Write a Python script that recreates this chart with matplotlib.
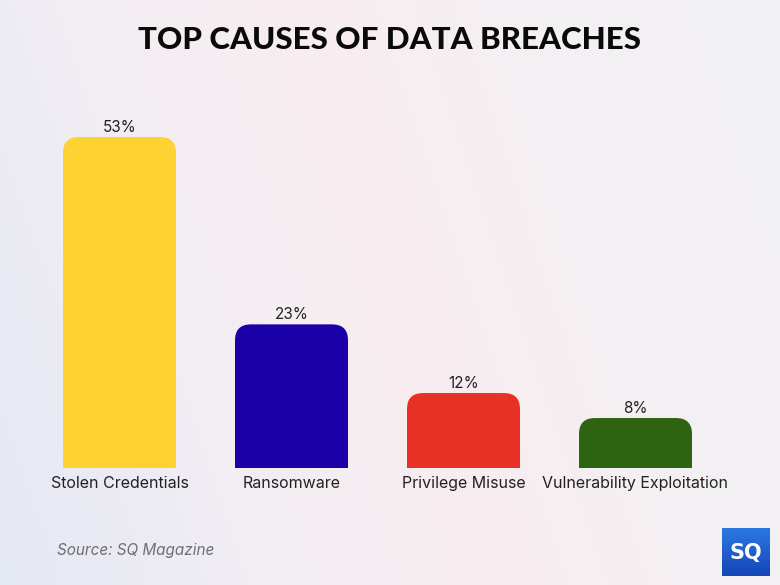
import numpy as np
import matplotlib.pyplot as plt
from matplotlib.patches import FancyBboxPatch, Rectangle
from matplotlib.colors import LinearSegmentedColormap

categories = ["Stolen Credentials", "Ransomware", "Privilege Misuse", "Vulnerability Exploitation"]
values = [53, 23, 12, 8]
colors = ["#FDD231", "#1A00A6", "#E83125", "#2E6312"]

W, H = 780, 585
fig = plt.figure(figsize=(W / 100, H / 100), dpi=100)

# background gradient
bg = fig.add_axes([0, 0, 1, 1], zorder=-10)
bg_cmap = LinearSegmentedColormap.from_list("bg", ["#E4E8F4", "#F1EDF3", "#F8EDF0", "#F4F0F3", "#F1F1F4"])
gx = np.linspace(0, 1, 200)
gy = np.linspace(0, 1, 150)
grad = 0.8 * gx[None, :] + 0.2 * gy[:, None]
bg.imshow(grad, cmap=bg_cmap, aspect="auto", extent=[0, 1, 0, 1], origin="lower")
bg.axis("off")

# bar axes: centres 172 px apart, baseline at y=468 px, 6.245 px per percent
step = 172.0
ppu = 6.245
ymax = 60
x0 = 119.5 - step / 2
ax = fig.add_axes([x0 / W, (H - 468) / H, 4 * step / W, ymax * ppu / H])
ax.set_xlim(-0.5, 3.5)
ax.set_ylim(0, ymax)
ax.axis("off")

bw = 113 / step
rad_px = 16
rx = rad_px / step
aspect = (rad_px / ppu) / rx
bars = ax.bar(range(4), values, width=bw, color=colors, alpha=0)
for b, c, v, cat in zip(bars, colors, values, categories):
    x, w, h = b.get_x(), b.get_width(), b.get_height()
    ax.add_patch(FancyBboxPatch((x, 0), w, h, boxstyle=f"round,pad=0,rounding_size={rx}",
                                mutation_aspect=aspect, fc=c, ec="none"))
    ax.add_patch(Rectangle((x, 0), w, h / 2, fc=c, ec="none"))
    ax.text(x + w / 2, h + 0.3, f"{v}%", ha="center", va="bottom",
            fontsize=11, family="Inter", color="#222222")
    ax.text(x + w / 2, -1.3, cat, ha="center", va="top",
            fontsize=11.5, family="Inter", color="#222222", clip_on=False)

fig.text(390 / W, 1 - 40 / H, "TOP CAUSES OF DATA BREACHES", ha="center", va="center",
         fontsize=22.5, fontweight="black", family="Lato", color="#0A0A0A")

fig.text(57 / W, 1 - 551 / H, "Source: SQ Magazine", ha="left", va="center",
         fontsize=11, style="italic", family="Inter", color="#6E6E73")

# logo
logo = fig.add_axes([722 / W, (H - 576) / H, 48 / W, 48 / H])
lg = np.linspace(0, 1, 50)
logo.imshow(lg[:, None] * np.ones((1, 50)), cmap=LinearSegmentedColormap.from_list("lg", ["#2D78E0", "#1446B8"]),
            aspect="auto", extent=[0, 1, 0, 1])
logo.text(0.5, 0.48, "SQ", ha="center", va="center", color="white", fontsize=15,
          fontweight="bold", family="DejaVu Sans")
logo.axis("off")

fig.savefig("out.png", dpi=100)
